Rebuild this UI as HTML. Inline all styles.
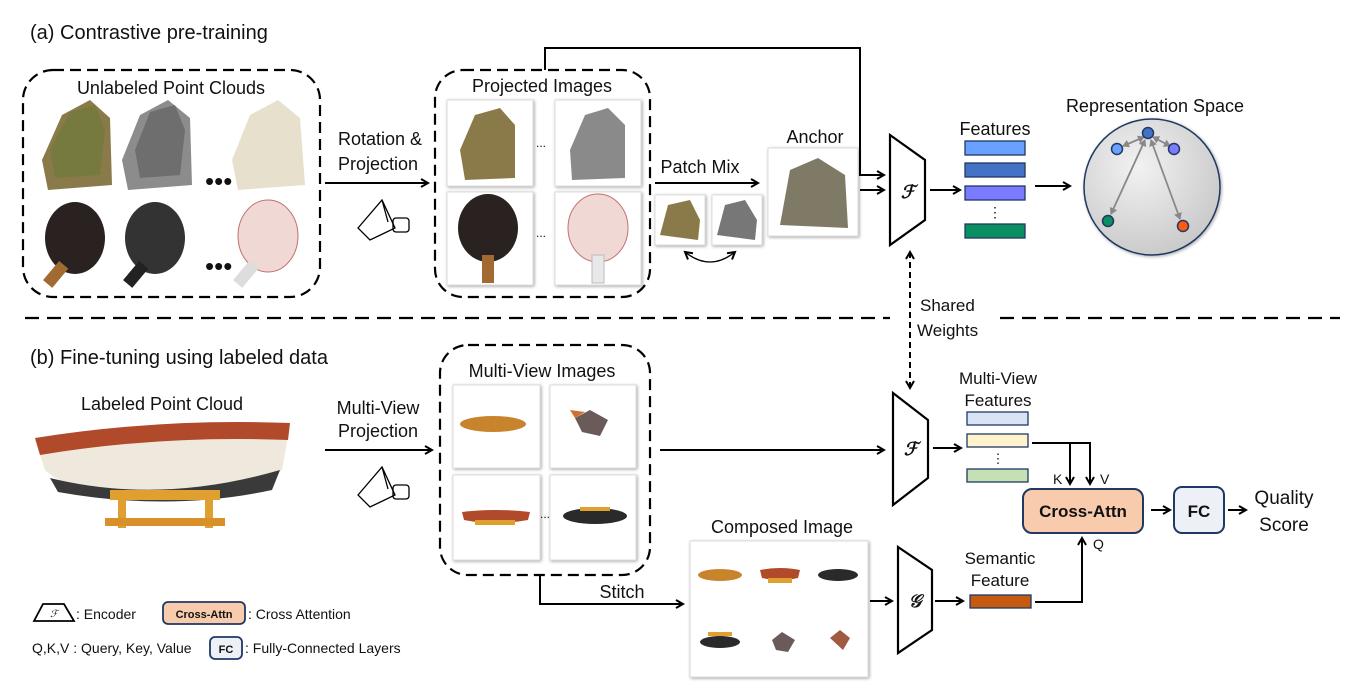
<!DOCTYPE html>
<html><head><meta charset="utf-8"><style>
html,body{margin:0;padding:0;background:#fff}
svg{display:block}
text{font-family:"Liberation Sans",sans-serif;fill:#111}
</style></head><body>
<svg width="1352" height="690" viewBox="0 0 1352 690" xmlns="http://www.w3.org/2000/svg">
<defs>
<marker id="ah" markerWidth="10" markerHeight="10" refX="8" refY="5" orient="auto" markerUnits="userSpaceOnUse"><path d="M1,1 L8,5 L1,9" fill="none" stroke="#000" stroke-width="2"/></marker>
<marker id="ahs" markerWidth="10" markerHeight="10" refX="8" refY="5" orient="auto-start-reverse" markerUnits="userSpaceOnUse"><path d="M1,1 L8,5 L1,9" fill="none" stroke="#000" stroke-width="2"/></marker>
<marker id="gh" markerWidth="8" markerHeight="8" refX="6" refY="4" orient="auto-start-reverse" markerUnits="userSpaceOnUse"><path d="M0,0 L7,4 L0,8z" fill="#888"/></marker>
<radialGradient id="rg" cx="0.4" cy="0.35" r="0.7"><stop offset="0" stop-color="#f2f2f2"/><stop offset="1" stop-color="#c8c8c8"/></radialGradient>
<filter id="sh"><feDropShadow dx="1" dy="1" stdDeviation="1.5" flood-opacity="0.35"/></filter>
</defs>

<text x="30" y="39" font-size="20">(a) Contrastive pre-training</text>

<rect x="23" y="70" width="297" height="227" rx="30" fill="none" stroke="#000" stroke-width="2.2" stroke-dasharray="11,6"/>
<text x="171" y="94" font-size="18" text-anchor="middle">Unlabeled Point Clouds</text>
<path d="M42,160 L62,115 L90,100 L110,118 L112,185 L48,190z" fill="#8a7a4a"/>
<path d="M50,150 L70,112 L95,105 L105,130 L100,175 L55,178z" fill="#6f7a3a" opacity=".7"/>
<path d="M122,160 L140,115 L168,100 L190,118 L192,185 L128,190z" fill="#8c8c8c"/>
<path d="M135,150 L150,112 L175,105 L185,130 L180,175 L140,178z" fill="#5a5a5a" opacity=".6"/>
<path d="M232,160 L250,115 L278,100 L300,118 L305,185 L238,190z" fill="#e6e0cc"/>
<text x="205" y="190" font-size="26">•••</text>
<ellipse cx="75" cy="238" rx="30" ry="36" fill="#2a2220"/><rect x="50" y="262" width="12" height="25" fill="#a06a30" transform="rotate(40 56 274)"/>
<ellipse cx="155" cy="238" rx="30" ry="36" fill="#333"/><rect x="130" y="262" width="12" height="25" fill="#222" transform="rotate(40 136 274)"/>
<ellipse cx="268" cy="236" rx="30" ry="36" fill="#f0d8d4" stroke="#c27070"/><rect x="240" y="262" width="12" height="25" fill="#ddd" transform="rotate(40 246 274)"/>
<text x="205" y="275" font-size="26">•••</text>

<text x="380" y="145" font-size="18" text-anchor="middle">Rotation &amp;</text>
<text x="378" y="170" font-size="18" text-anchor="middle">Projection</text>
<line x1="325" y1="183" x2="428" y2="183" stroke="#000" stroke-width="2" marker-end="url(#ah)"/>
<g fill="none" stroke="#000" stroke-width="1.3"><path d="M358,228 L382,200 L395,228 L370,240z M382,200 L388,222"/><rect x="393" y="218" width="16" height="14" rx="3"/></g>

<rect x="435" y="70" width="215" height="227" rx="28" fill="none" stroke="#000" stroke-width="2.2" stroke-dasharray="11,6"/>
<text x="542" y="92" font-size="18" text-anchor="middle">Projected Images</text>
<g filter="url(#sh)" fill="#fff" stroke="#ddd">
<rect x="447" y="100" width="86" height="86"/><rect x="555" y="100" width="86" height="86"/>
<rect x="447" y="192" width="86" height="93"/><rect x="555" y="192" width="86" height="93"/></g>
<path d="M460,150 L475,115 L500,108 L515,125 L515,178 L465,180z" fill="#8a7a4a"/>
<path d="M570,150 L585,115 L608,108 L625,125 L625,178 L572,180z" fill="#8a8a8a"/>
<ellipse cx="488" cy="228" rx="30" ry="34" fill="#2a2220"/><rect x="482" y="255" width="12" height="28" fill="#a06a30"/>
<ellipse cx="598" cy="228" rx="30" ry="34" fill="#f0d8d4" stroke="#c27070"/><rect x="592" y="255" width="12" height="28" fill="#e8e8e8" stroke="#bbb"/>
<text x="536" y="147" font-size="12">...</text><text x="536" y="237" font-size="12">...</text>

<text x="700" y="173" font-size="18" text-anchor="middle">Patch Mix</text>
<line x1="655" y1="183" x2="758" y2="183" stroke="#000" stroke-width="2" marker-end="url(#ah)"/>
<g filter="url(#sh)" fill="#fff" stroke="#ddd"><rect x="655" y="195" width="50" height="50"/><rect x="712" y="195" width="50" height="50"/><rect x="768" y="148" width="90" height="88"/></g>
<path d="M660,235 L668,205 L690,200 L700,220 L698,240z" fill="#8a7a4a"/>
<path d="M717,235 L725,205 L745,200 L757,220 L755,240z" fill="#777"/>
<path d="M780,225 L790,170 L818,158 L845,175 L848,228z" fill="#7e7a66"/>
<path d="M685,252 Q710,272 735,252" fill="none" stroke="#000" stroke-width="1.3" marker-start="url(#ahs)" marker-end="url(#ah)"/>
<text x="815" y="143" font-size="18" text-anchor="middle">Anchor</text>

<path d="M545,70 L545,48 L860,48 L860,175 L884,175" fill="none" stroke="#000" stroke-width="2" marker-end="url(#ah)"/>
<line x1="860" y1="190" x2="884" y2="190" stroke="#000" stroke-width="2" marker-end="url(#ah)"/>

<path d="M890,135 L925,160 L925,220 L890,245z" fill="#fff" stroke="#000" stroke-width="2.2"/>
<text x="908" y="198" font-size="18" font-style="italic" font-weight="bold" font-family="Liberation Serif,serif" text-anchor="middle">ℱ</text>
<line x1="930" y1="190" x2="960" y2="190" stroke="#000" stroke-width="2" marker-end="url(#ah)"/>
<text x="995" y="135" font-size="18" text-anchor="middle">Features</text>
<g stroke="#1f3864" stroke-width="1.3">
<rect x="965" y="141" width="60" height="14" fill="#6aa0ff"/>
<rect x="965" y="163" width="60" height="14" fill="#4472c4"/>
<rect x="965" y="186" width="60" height="14" fill="#7b7bff"/>
<rect x="965" y="224" width="60" height="14" fill="#0a9060"/></g>
<text x="995" y="217" font-size="14" text-anchor="middle">⋮</text>
<line x1="1035" y1="186" x2="1070" y2="186" stroke="#000" stroke-width="2" marker-end="url(#ah)"/>

<text x="1155" y="112" font-size="18" text-anchor="middle">Representation Space</text>
<circle cx="1152" cy="187" r="68" fill="url(#rg)" stroke="#1f3864" stroke-width="1.5" filter="url(#sh)"/>
<g stroke="#888" stroke-width="1.8">
<line x1="1144" y1="137" x2="1123" y2="146" marker-start="url(#gh)" marker-end="url(#gh)"/>
<line x1="1153" y1="137" x2="1170" y2="146" marker-start="url(#gh)" marker-end="url(#gh)"/>
<line x1="1145" y1="140" x2="1111" y2="214" marker-start="url(#gh)" marker-end="url(#gh)"/>
<line x1="1151" y1="140" x2="1180" y2="219" marker-start="url(#gh)" marker-end="url(#gh)"/></g>
<g stroke="#1f3864" stroke-width="1.5">
<circle cx="1148" cy="133" r="5.5" fill="#4472c4"/><circle cx="1117" cy="149" r="5.5" fill="#6aa0ff"/>
<circle cx="1174" cy="149" r="5.5" fill="#7b7bff"/><circle cx="1108" cy="221" r="5.5" fill="#0a9060"/>
<circle cx="1183" cy="226" r="5.5" fill="#ff5a10"/></g>

<line x1="25" y1="318" x2="890" y2="318" stroke="#000" stroke-width="2.2" stroke-dasharray="14,8"/>
<line x1="1000" y1="318" x2="1340" y2="318" stroke="#000" stroke-width="2.2" stroke-dasharray="14,8"/>
<line x1="910" y1="252" x2="910" y2="388" stroke="#000" stroke-width="2" stroke-dasharray="6,4" marker-start="url(#ahs)" marker-end="url(#ah)"/>
<text x="920" y="311" font-size="17">Shared</text>
<text x="917" y="336" font-size="17">Weights</text>

<text x="30" y="364" font-size="20">(b) Fine-tuning using labeled data</text>
<text x="162" y="410" font-size="18" text-anchor="middle">Labeled Point Cloud</text>
<path d="M35,440 Q160,420 290,425 L282,470 Q250,495 160,495 Q70,495 45,470z" fill="#eee8dd"/>
<path d="M35,438 Q160,418 290,423 L288,440 Q160,435 40,455z" fill="#b04a2a"/>
<path d="M50,478 Q160,505 280,470 L272,490 Q170,512 58,492z" fill="#3a3a3a"/>
<rect x="110" y="490" width="110" height="10" fill="#e0a030"/>
<rect x="118" y="498" width="8" height="30" fill="#e0a030"/><rect x="205" y="498" width="8" height="30" fill="#e0a030"/>
<rect x="105" y="518" width="120" height="8" fill="#d89028"/>

<text x="378" y="414" font-size="18" text-anchor="middle">Multi-View</text>
<text x="378" y="437" font-size="18" text-anchor="middle">Projection</text>
<line x1="325" y1="450" x2="432" y2="450" stroke="#000" stroke-width="2" marker-end="url(#ah)"/>
<g fill="none" stroke="#000" stroke-width="1.3"><path d="M358,495 L382,467 L395,495 L370,507z M382,467 L388,489"/><rect x="393" y="485" width="16" height="14" rx="3"/></g>

<rect x="440" y="345" width="210" height="230" rx="28" fill="none" stroke="#000" stroke-width="2.2" stroke-dasharray="11,6"/>
<text x="542" y="377" font-size="18" text-anchor="middle">Multi-View Images</text>
<g filter="url(#sh)" fill="#fff" stroke="#ddd">
<rect x="453" y="385" width="87" height="83"/><rect x="550" y="385" width="86" height="83"/>
<rect x="453" y="475" width="87" height="85"/><rect x="550" y="475" width="86" height="85"/></g>
<ellipse cx="493" cy="424" rx="33" ry="8" fill="#c8842c"/>
<path d="M575,418 L590,410 L608,420 L600,436 L582,432z" fill="#6a5a5a"/><path d="M575,418 L570,410 L585,412z" fill="#d07030"/>
<path d="M462,512 Q495,508 530,512 L528,520 Q495,526 464,520z" fill="#b04a2a"/><rect x="475" y="520" width="40" height="5" fill="#e0a030"/>
<ellipse cx="595" cy="516" rx="32" ry="8" fill="#2a2a2a"/><rect x="580" y="507" width="30" height="4" fill="#e0a030"/>
<text x="540" y="518" font-size="12">...</text>
<line x1="660" y1="450" x2="884" y2="450" stroke="#000" stroke-width="2" marker-end="url(#ah)"/>

<path d="M893,393 L928,420 L928,478 L893,505z" fill="#fff" stroke="#000" stroke-width="2.2"/>
<text x="911" y="455" font-size="18" font-style="italic" font-weight="bold" font-family="Liberation Serif,serif" text-anchor="middle">ℱ</text>
<line x1="933" y1="448" x2="961" y2="448" stroke="#000" stroke-width="2" marker-end="url(#ah)"/>
<text x="998" y="384" font-size="17" text-anchor="middle">Multi-View</text>
<text x="998" y="406" font-size="17" text-anchor="middle">Features</text>
<g stroke="#1f3864" stroke-width="1.3">
<rect x="967" y="412" width="61" height="13" fill="#dae3f3"/>
<rect x="967" y="434" width="61" height="13" fill="#fff2cc"/>
<rect x="967" y="469" width="61" height="13" fill="#c5e0b4"/></g>
<text x="998" y="463" font-size="13" text-anchor="middle">⋮</text>
<path d="M1032,443 L1090,443 L1090,484" fill="none" stroke="#000" stroke-width="2" marker-end="url(#ah)"/>
<path d="M1070,443 L1070,484" fill="none" stroke="#000" stroke-width="2" marker-end="url(#ah)"/>
<text x="1053" y="484" font-size="14">K</text><text x="1100" y="484" font-size="14">V</text>

<rect x="1023" y="489" width="120" height="44" rx="9" fill="#f8cbad" stroke="#1f3864" stroke-width="2"/>
<text x="1083" y="517" font-size="17" font-weight="bold" text-anchor="middle">Cross-Attn</text>
<line x1="1151" y1="510" x2="1170" y2="510" stroke="#000" stroke-width="2" marker-end="url(#ah)"/>
<rect x="1174" y="487" width="50" height="46" rx="8" fill="#eef0f8" stroke="#1f3864" stroke-width="2"/>
<text x="1199" y="517" font-size="17" font-weight="bold" text-anchor="middle">FC</text>
<line x1="1228" y1="510" x2="1246" y2="510" stroke="#000" stroke-width="2" marker-end="url(#ah)"/>
<text x="1284" y="504" font-size="19" text-anchor="middle">Quality</text>
<text x="1284" y="531" font-size="19" text-anchor="middle">Score</text>

<path d="M540,575 L540,604 L683,604" fill="none" stroke="#000" stroke-width="2" marker-end="url(#ah)"/>
<text x="622" y="598" font-size="18" text-anchor="middle">Stitch</text>
<text x="782" y="533" font-size="18" text-anchor="middle">Composed Image</text>
<rect x="690" y="541" width="178" height="136" fill="#fff" stroke="#ddd" filter="url(#sh)"/>
<ellipse cx="720" cy="575" rx="22" ry="6" fill="#c8842c"/>
<path d="M760,570 Q780,566 800,570 L798,578 Q780,582 762,578z" fill="#b04a2a"/><rect x="768" y="578" width="24" height="5" fill="#e0a030"/>
<ellipse cx="838" cy="575" rx="20" ry="6" fill="#2a2a2a"/>
<ellipse cx="720" cy="642" rx="20" ry="6" fill="#2a2a2a"/><rect x="708" y="632" width="24" height="4" fill="#e0a030"/>
<path d="M772,640 L782,632 L795,640 L788,652 L776,650z" fill="#6a5a5a"/>
<path d="M830,638 L840,630 L850,638 L843,650z" fill="#a05a40"/>

<line x1="870" y1="601" x2="892" y2="601" stroke="#000" stroke-width="2" marker-end="url(#ah)"/>
<path d="M898,547 L932,570 L932,630 L898,653z" fill="#fff" stroke="#000" stroke-width="2.2"/>
<text x="915" y="607" font-size="18" font-style="italic" font-weight="bold" font-family="Liberation Serif,serif" text-anchor="middle">𝒢</text>
<line x1="935" y1="601" x2="963" y2="601" stroke="#000" stroke-width="2" marker-end="url(#ah)"/>
<text x="1000" y="564" font-size="17" text-anchor="middle">Semantic</text>
<text x="1000" y="586" font-size="17" text-anchor="middle">Feature</text>
<rect x="970" y="595" width="61" height="13" fill="#c55a11" stroke="#1f3864" stroke-width="1.3"/>
<path d="M1035,602 L1082,602 L1082,538" fill="none" stroke="#000" stroke-width="2" marker-end="url(#ah)"/>
<text x="1093" y="549" font-size="14">Q</text>

<path d="M34,621 L43,604 L64,604 L74,621z" fill="#fff" stroke="#000" stroke-width="1.8"/>
<text x="54" y="617" font-size="10" font-style="italic" font-family="Liberation Serif,serif" text-anchor="middle">ℱ</text>
<text x="76" y="619" font-size="14">: Encoder</text>
<rect x="163" y="602" width="82" height="22" rx="5" fill="#f8cbad" stroke="#1f3864" stroke-width="1.8"/>
<text x="204" y="618" font-size="11" font-weight="bold" text-anchor="middle">Cross-Attn</text>
<text x="248" y="619" font-size="14">: Cross Attention</text>
<text x="32" y="653" font-size="14">Q,K,V : Query, Key, Value</text>
<rect x="210" y="637" width="32" height="22" rx="5" fill="#eef0f8" stroke="#1f3864" stroke-width="1.8"/>
<text x="226" y="653" font-size="11" font-weight="bold" text-anchor="middle">FC</text>
<text x="245" y="653" font-size="14">: Fully-Connected Layers</text>
</svg>
</body></html>
